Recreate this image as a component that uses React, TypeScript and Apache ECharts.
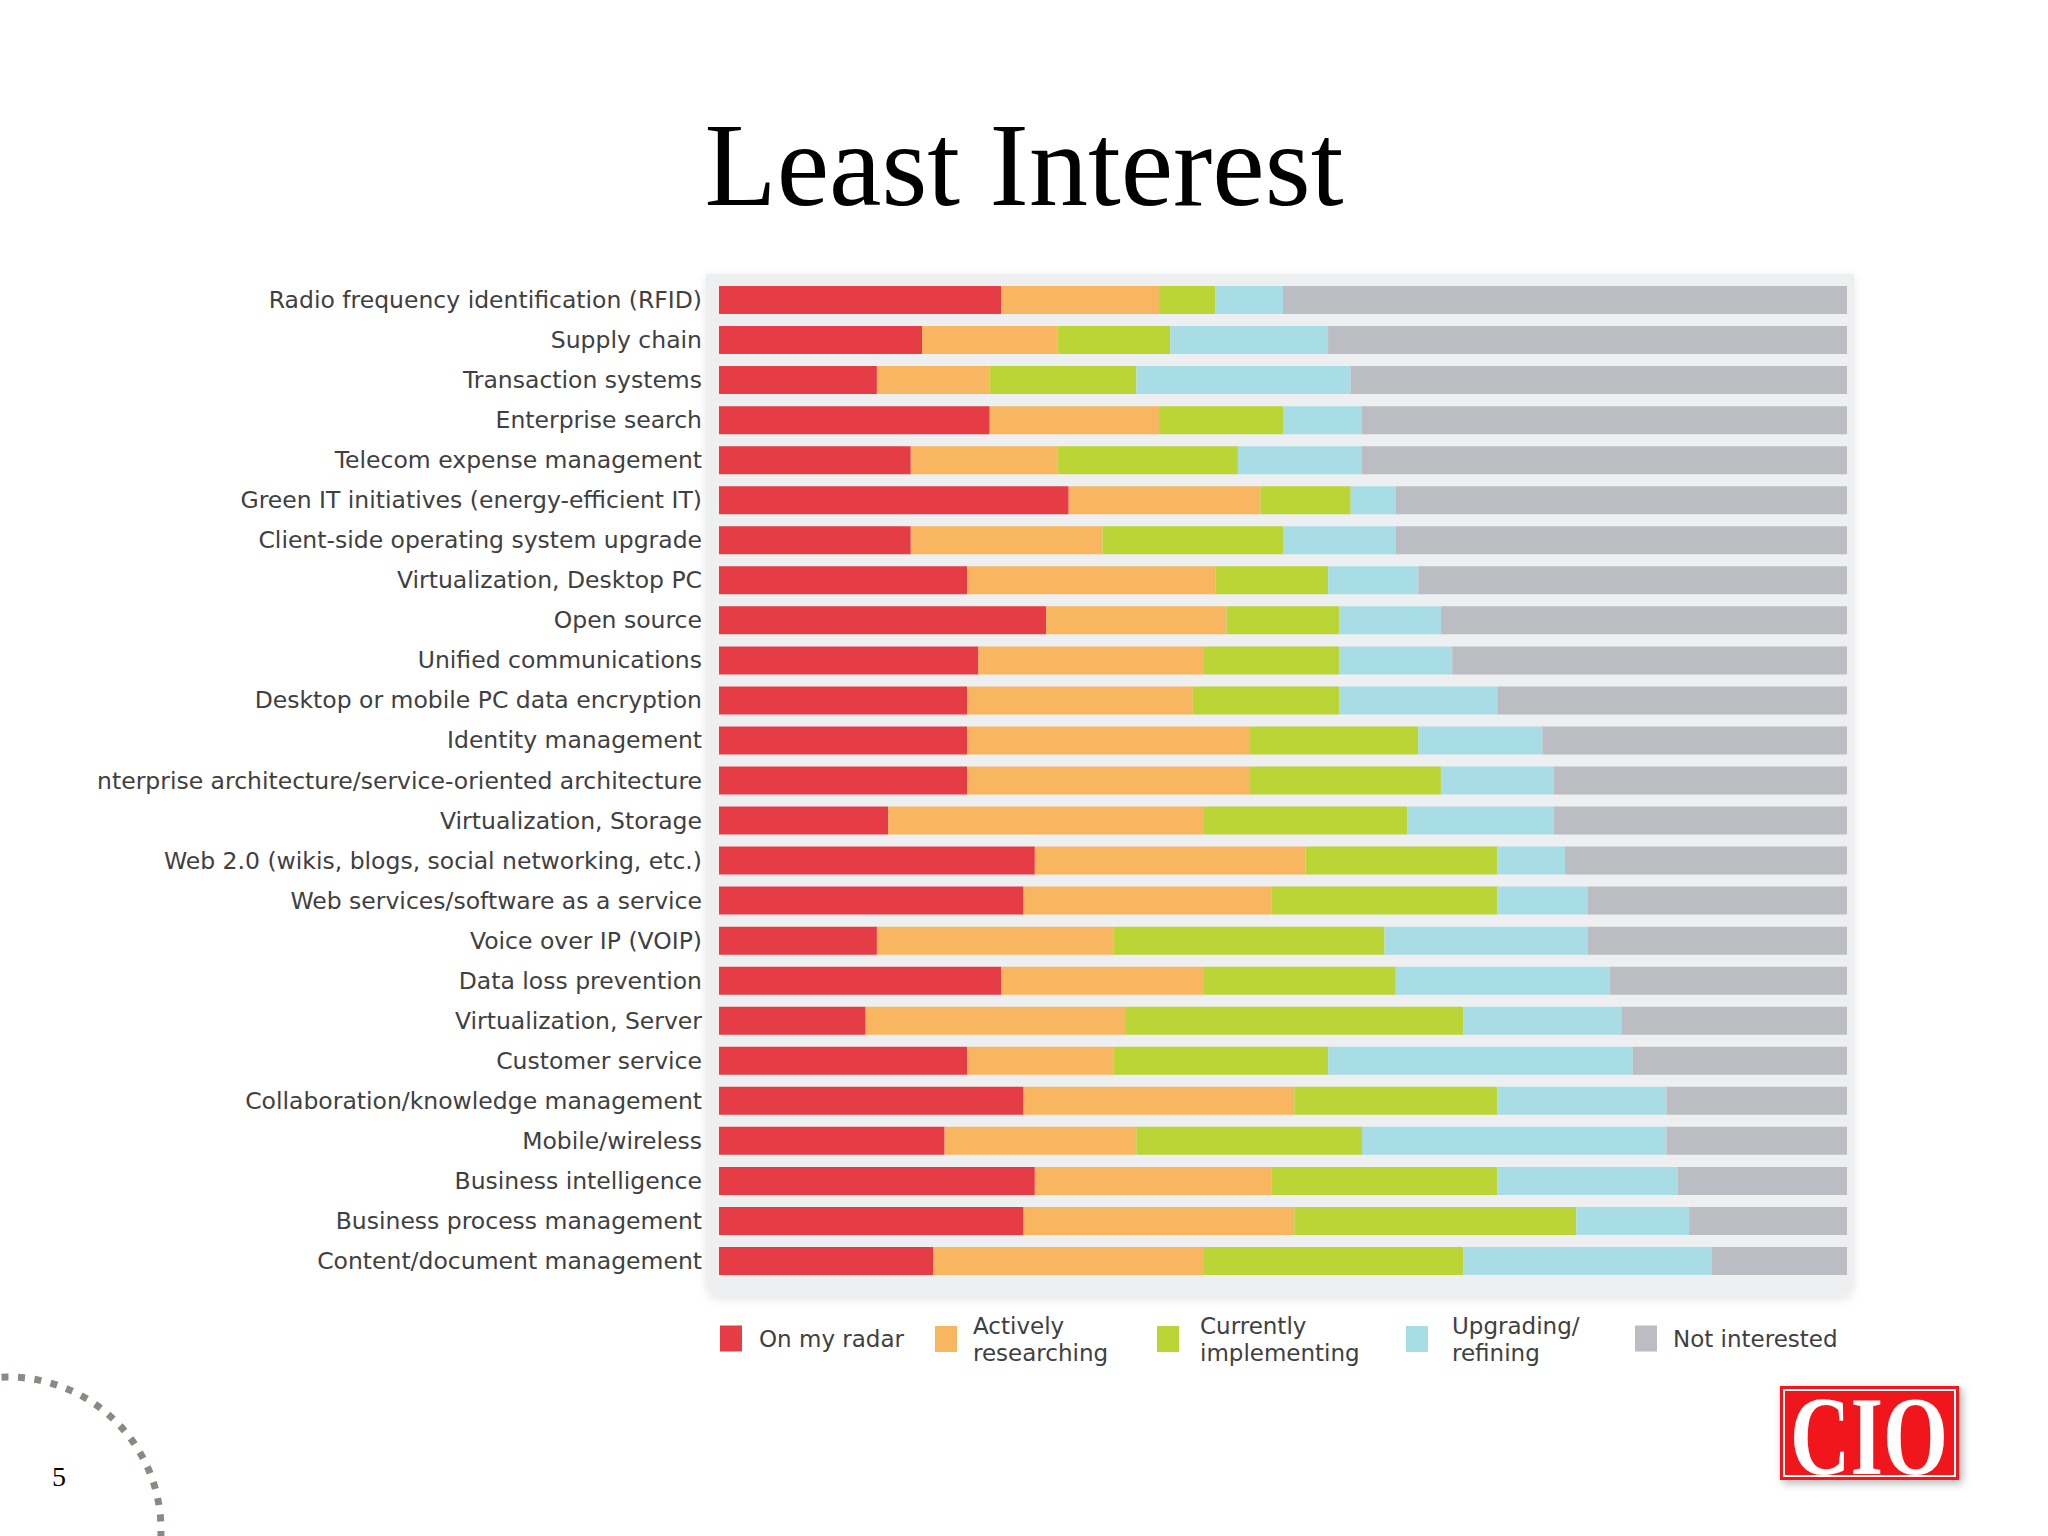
import React, { useEffect, useRef } from 'react';
import * as echarts from 'echarts';

const categories = [
  'Radio frequency identification (RFID)',
  'Supply chain',
  'Transaction systems',
  'Enterprise search',
  'Telecom expense management',
  'Green IT initiatives (energy-efficient IT)',
  'Client-side operating system upgrade',
  'Virtualization, Desktop PC',
  'Open source',
  'Unified communications',
  'Desktop or mobile PC data encryption',
  'Identity management',
  'nterprise architecture/service-oriented architecture',
  'Virtualization, Storage',
  'Web 2.0 (wikis, blogs, social networking, etc.)',
  'Web services/software as a service',
  'Voice over IP (VOIP)',
  'Data loss prevention',
  'Virtualization, Server',
  'Customer service',
  'Collaboration/knowledge management',
  'Mobile/wireless',
  'Business intelligence',
  'Business process management',
  'Content/document management',
];

const seriesNames = [
  'On my radar',
  'Actively\nresearching',
  'Currently\nimplementing',
  'Upgrading/\nrefining',
  'Not interested',
];

const onMyRadar = [25, 18, 14, 24, 17, 31, 17, 22, 29, 23, 22, 22, 22, 15, 28, 27, 14, 25, 13, 22, 27, 20, 28, 27, 19];
const activelyResearching = [14, 12, 10, 15, 13, 17, 17, 22, 16, 20, 20, 25, 25, 28, 24, 22, 21, 18, 23, 13, 24, 17, 21, 24, 24];
const currentlyImplementing = [5, 10, 13, 11, 16, 8, 16, 10, 10, 12, 13, 15, 17, 18, 17, 20, 24, 17, 30, 19, 18, 20, 20, 25, 23];
const upgradingRefining = [6, 14, 19, 7, 11, 4, 10, 8, 9, 10, 14, 11, 10, 13, 6, 8, 18, 19, 14, 27, 15, 27, 16, 10, 22];
const notInterested = [50, 46, 44, 43, 43, 40, 40, 38, 36, 35, 31, 27, 26, 26, 25, 23, 23, 21, 20, 19, 16, 16, 15, 14, 12];

const seriesValues = [onMyRadar, activelyResearching, currentlyImplementing, upgradingRefining, notInterested];
const colors = ['#E63C45', '#F9B660', '#BBD536', '#A9DDE5', '#BCBDC2'];
const legendLefts = [715, 930, 1152, 1401, 1630];
const legendTextPads = [12, 11, 16, 19, 11];

const labelFont = "'DejaVu Sans', 'Open Sans', sans-serif";

export default function App() {
  const ref = useRef<HTMLDivElement>(null);

  useEffect(() => {
    if (!ref.current) return;
    const chart = echarts.init(ref.current, null, { renderer: 'svg' });

    const option: any = {
      animation: false,
      backgroundColor: '#ffffff',
      title: {
        text: 'Least Interest',
        left: 'center',
        top: 101,
        textStyle: {
          fontFamily: "'Liberation Serif', serif",
          fontSize: 118,
          fontWeight: 'normal',
          color: '#000000',
        },
      },
      legend: seriesNames.map((name, i) => ({
        data: [name],
        left: legendLefts[i],
        top: name.indexOf('\n') >= 0 ? 1307 : 1320,
        icon: 'rect',
        itemWidth: 22,
        itemHeight: 26,
        selectedMode: false,
        textStyle: {
          fontFamily: labelFont,
          fontSize: 23,
          lineHeight: 27,
          color: '#404040',
          padding: [0, 0, 0, legendTextPads[i]],
        },
      })),
      grid: {
        left: 719,
        right: 201,
        top: 280,
        height: 1001,
        containLabel: false,
      },
      xAxis: {
        type: 'value',
        min: 0,
        max: 100,
        show: false,
      },
      yAxis: {
        type: 'category',
        data: categories,
        inverse: true,
        axisLine: { show: false },
        axisTick: { show: false },
        splitLine: { show: false },
        axisLabel: {
          margin: 17,
          fontFamily: labelFont,
          fontSize: 23.5,
          color: '#404040',
        },
      },
      graphic: [
        {
          type: 'rect',
          z: 0,
          shape: { x: 706, y: 274, width: 1148, height: 1022, r: [2, 2, 14, 14] },
          style: {
            fill: '#EEEFF1',
            shadowBlur: 10,
            shadowColor: 'rgba(0,0,0,0.10)',
            shadowOffsetY: 3,
          },
          silent: true,
        },
        {
          type: 'arc',
          shape: { cx: 8, cy: 1530, r: 153, startAngle: -Math.PI / 2 - 0.15, endAngle: 0.12, clockwise: true },
          style: { stroke: '#8D8880', lineWidth: 7, lineDash: [7, 9.5], fill: 'none' },
          silent: true,
        },
        {
          type: 'text',
          x: 52,
          y: 1462,
          style: {
            text: '5',
            fontFamily: "'Liberation Serif', serif",
            fontSize: 28,
            fill: '#000000',
          },
          silent: true,
        },
        {
          type: 'group',
          silent: true,
          children: [
            {
              type: 'rect',
              shape: { x: 1780, y: 1386, width: 179, height: 94 },
              style: {
                fill: '#F0141C',
                shadowBlur: 8,
                shadowColor: 'rgba(0,0,0,0.3)',
                shadowOffsetX: 3,
                shadowOffsetY: 3,
              },
            },
            {
              type: 'rect',
              shape: { x: 1784, y: 1390, width: 171, height: 86 },
              style: { fill: 'none', stroke: '#ffffff', lineWidth: 2 },
            },
            {
              type: 'text',
              x: 1869,
              y: 1436,
              scaleX: 0.74,
              style: {
                text: 'CIO',
                fontFamily: "'Liberation Serif', serif",
                fontWeight: 'bold',
                fontSize: 113,
                fill: '#ffffff',
                align: 'center',
                verticalAlign: 'middle',
              },
            },
          ],
        },
      ],
      series: seriesNames.map((name, i) => ({
        name,
        type: 'bar',
        stack: 'total',
        barWidth: 28,
        silent: true,
        itemStyle: { color: colors[i] },
        data: seriesValues[i],
      })),
    };

    chart.setOption(option);
    return () => {
      chart.dispose();
    };
  }, []);

  return (
    <div
      ref={ref}
      style={{ position: 'fixed', left: 0, top: 0, width: 2048, height: 1536, background: '#ffffff' }}
    />
  );
}
